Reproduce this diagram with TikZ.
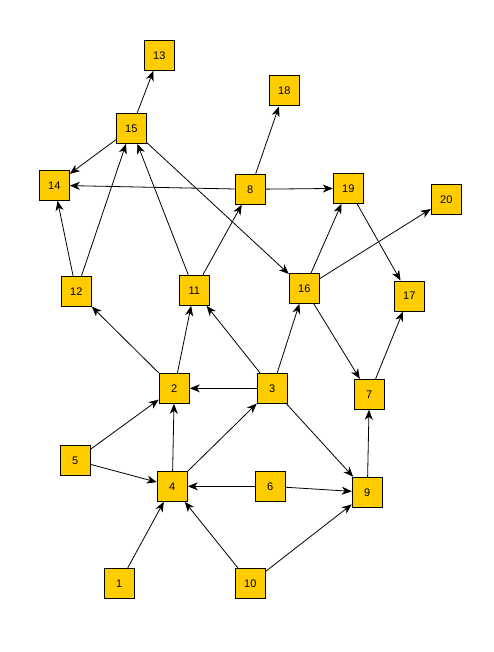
\documentclass[tikz,border=0pt]{standalone}
\usepackage{fontspec}
\setmainfont{Liberation Sans}
\usetikzlibrary{arrows.meta}
\definecolor{boxfill}{HTML}{FFCC00}
\begin{document}
\begin{tikzpicture}[x=1pt,y=-1pt,
  vbox/.style={draw=black,line width=1pt,fill=boxfill,minimum width=30pt,minimum height=30pt,inner sep=0pt,font=\fontsize{11}{13}\selectfont},
  link/.style={draw=black,line width=0.8pt,-{Stealth[length=10pt,width=8pt,inset=3pt]}}]
\useasboundingbox (0,0) rectangle (493,652);
\node[vbox] (n13) at (159.3,55.3) {13};
\node[vbox] (n18) at (284.3,91) {18};
\node[vbox] (n15) at (131.3,128.3) {15};
\node[vbox] (n14) at (54.3,185.3) {14};
\node[vbox] (n8) at (250.3,189.3) {8};
\node[vbox] (n19) at (348.3,188.3) {19};
\node[vbox] (n20) at (446.3,199.3) {20};
\node[vbox] (n12) at (76.3,291.3) {12};
\node[vbox] (n11) at (194.3,290.3) {11};
\node[vbox] (n16) at (304.3,288.3) {16};
\node[vbox] (n17) at (409.3,296) {17};
\node[vbox] (n2) at (174.3,388.3) {2};
\node[vbox] (n3) at (272.3,388.3) {3};
\node[vbox] (n7) at (369.3,394.3) {7};
\node[vbox] (n5) at (75.3,460.3) {5};
\node[vbox] (n4) at (172.3,486.3) {4};
\node[vbox] (n6) at (270.3,486.3) {6};
\node[vbox] (n9) at (367.3,492.3) {9};
\node[vbox] (n1) at (119.3,583.3) {1};
\node[vbox] (n10) at (250.3,583.3) {10};
\draw[link] (n15) -- (n13);
\draw[link] (n15) -- (n14);
\draw[link] (n12) -- (n15);
\draw[link] (n11) -- (n15);
\draw[link] (n15) -- (n16);
\draw[link] (n8) -- (n14);
\draw[link] (n8) -- (n18);
\draw[link] (n8) -- (n19);
\draw[link] (n11) -- (n8);
\draw[link] (n19) -- (n17);
\draw[link] (n16) -- (n19);
\draw[link] (n16) -- (n20);
\draw[link] (n16) -- (n7);
\draw[link] (n7) -- (n17);
\draw[link] (n12) -- (n14);
\draw[link] (n2) -- (n12);
\draw[link] (n2) -- (n11);
\draw[link] (n3) -- (n11);
\draw[link] (n3) -- (n16);
\draw[link] (n3) -- (n2);
\draw[link] (n3) -- (n9);
\draw[link] (n5) -- (n2);
\draw[link] (n5) -- (n4);
\draw[link] (n4) -- (n2);
\draw[link] (n4) -- (n3);
\draw[link] (n6) -- (n4);
\draw[link] (n6) -- (n9);
\draw[link] (n1) -- (n4);
\draw[link] (n10) -- (n4);
\draw[link] (n10) -- (n9);
\draw[link] (n9) -- (n7);
\end{tikzpicture}
\end{document}
